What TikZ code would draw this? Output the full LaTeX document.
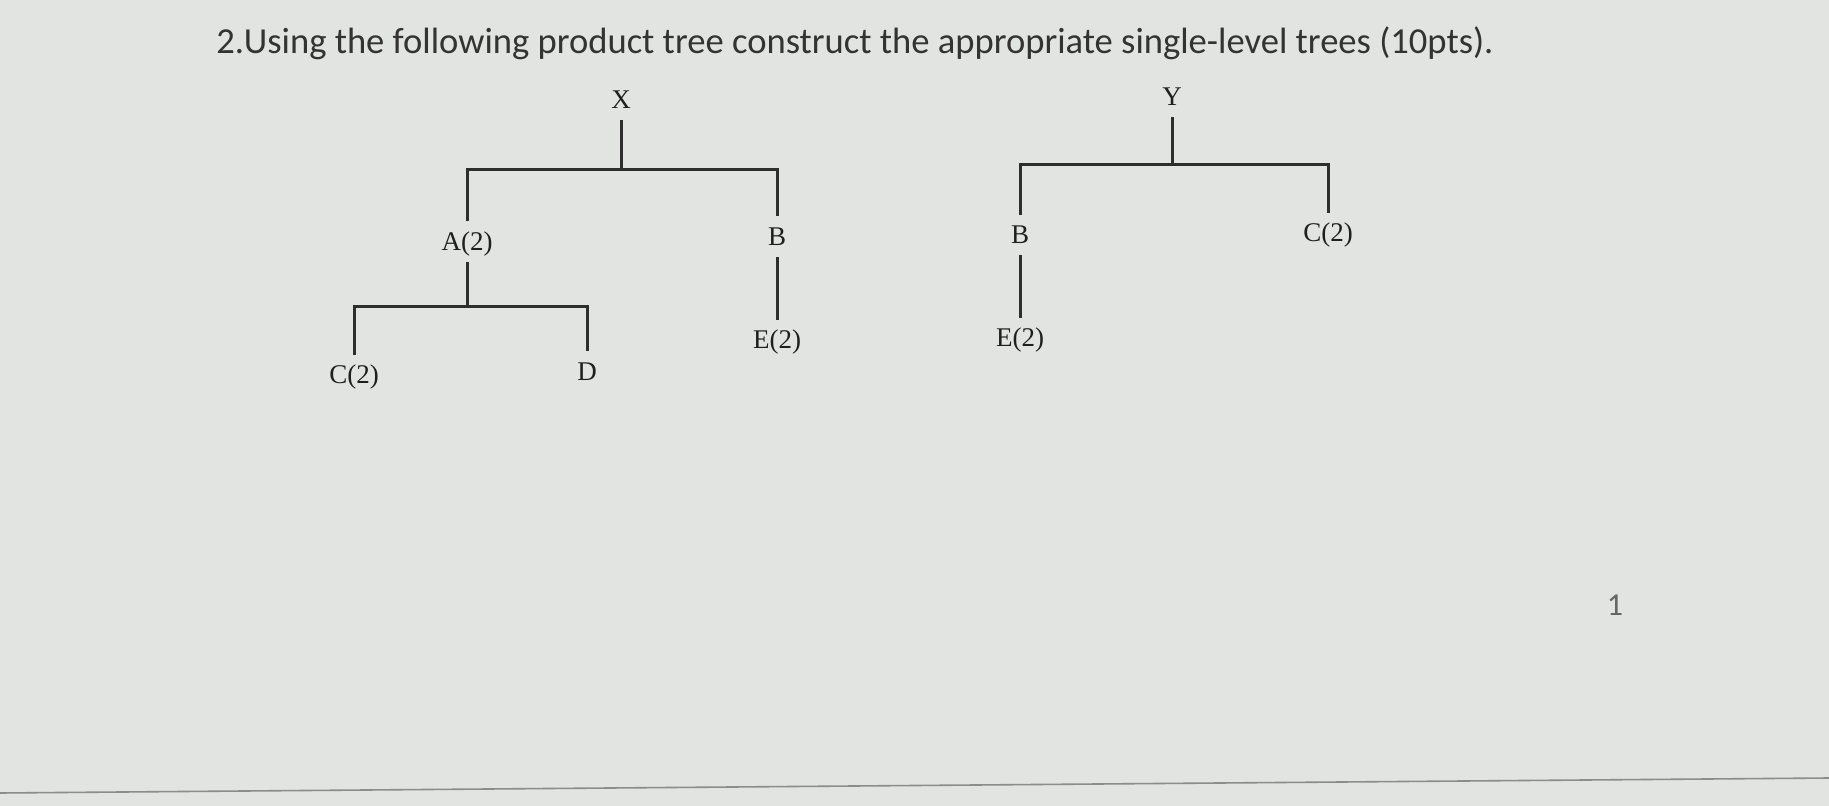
\documentclass[tikz,border=0pt]{standalone}
\usepackage{fontspec}
\setmainfont{Liberation Serif}
\newfontfamily\calib{Carlito}
\begin{document}
\begin{tikzpicture}[x=0.5pt,y=-0.5pt,
  lbl/.style={inner xsep=0pt,inner ysep=5.5pt,text height=9pt,text depth=0pt,
    font=\fontsize{13.5}{16}\selectfont,text=black!88},
  br/.style={line width=1.5pt,draw=black!82}]
\useasboundingbox (0,0) rectangle (1829,806);
\fill[fill={rgb,255:red,226;green,228;blue,225}] (0,0) rectangle (1829,806);
\draw[black!45,line width=0.8pt] (0,793) -- (1829,778);
% title
\node[anchor=base west,inner sep=0pt,font=\calib\fontsize{18.3}{22}\selectfont,text=black!80] (title) at (216,53.7)
  {2.Using the following product tree construct the appropriate single-level trees (10pts).};
\node[anchor=base,inner sep=0pt,font=\calib\fontsize{16}{19}\selectfont,text=black!60] (pg) at (1615,615) {1};
% tree X
\node[lbl] (X) at (621,100) {X};
\node[lbl] (A) at (467,241.7) {A(2)};
\node[lbl] (B) at (777,236.7) {B};
\node[lbl] (E) at (777,340) {E(2)};
\node[lbl] (C) at (354,375) {C(2)};
\node[lbl] (D) at (587,371.7) {D};
\coordinate (jx) at (621,170);
\coordinate (ja) at (467,306.7);
\draw[br] (X.south) -- (jx);
\draw[br] (A.north) |- (jx) -| (B.north);
\draw[br] (A.south) -- (ja);
\draw[br] (C.north) |- (ja) -| (D.north);
\draw[br] (B.south) -- (E.north);
% tree Y
\node[lbl] (Y) at (1172,96.7) {Y};
\node[lbl] (B2) at (1020,235) {B};
\node[lbl] (E2) at (1020,338) {E(2)};
\node[lbl] (C2) at (1328,233) {C(2)};
\coordinate (jy) at (1172,165);
\draw[br] (Y.south) -- (jy);
\draw[br] (B2.north) |- (jy) -| (C2.north);
\draw[br] (B2.south) -- (E2.north);
\end{tikzpicture}
\end{document}
